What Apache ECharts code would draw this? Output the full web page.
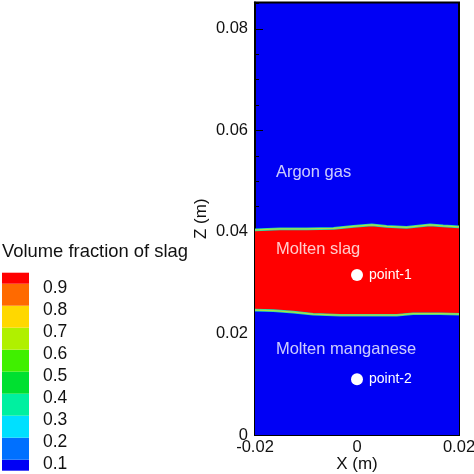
<!DOCTYPE html>
<html>
<head>
<meta charset="utf-8">
<style>
html, body { margin: 0; padding: 0; background: #fff; }
#chart { width: 474px; height: 474px; }
</style>
<script src="https://cdn.jsdelivr.net/npm/echarts@6/dist/echarts.min.js"></script>
</head>
<body>
<div id="chart"></div>
<script>
// Slag / gas interface, [x, z] in metres
var upperX = [-0.02, -0.0151, -0.0099, -0.0046, -0.0007, 0.0029, 0.0058, 0.0097, 0.0143, 0.0169, 0.02];
var upperZ = [0.0404, 0.0406, 0.0406, 0.0407, 0.0411, 0.0414, 0.0411, 0.0409, 0.0414, 0.0412, 0.0410];

// Manganese / slag interface
var lowerX = [-0.02, -0.0164, -0.0125, -0.0086, -0.0033, 0.0032, 0.0078, 0.0110, 0.0163, 0.02];
var lowerZ = [0.0246, 0.0245, 0.0242, 0.0238, 0.0236, 0.0236, 0.0236, 0.0239, 0.0239, 0.0238];

// Labels and monitoring points
var zoneNames = ['Argon gas', 'Molten slag', 'Molten manganese'];
var zoneX = [-0.0159, -0.0159, -0.0159];
var zoneZ = [0.0518, 0.0365, 0.0168];
var pointNames = ['point-1', 'point-2'];
var pointX = [0, 0];
var pointZ = [0.0315, 0.011];

// Contour legend, bottom to top
var levelTicks = [0.1, 0.2, 0.3, 0.4, 0.5, 0.6, 0.7, 0.8, 0.9];
var levelColors = ['#0000f5', '#0070ff', '#00e0ff', '#00f0a0', '#00e030', '#40f000', '#b0f000', '#ffd800', '#ff6a00', '#ff0000'];
var levelSteps = [0.1, 0.1, 0.1, 0.1, 0.1, 0.1, 0.1, 0.1, 0.1, 0.1];

var FONT = '"Liberation Sans", Arial, sans-serif';
var BLUE = levelColors[0];
var RED = levelColors[9];

function pairs(xs, zs) {
    return xs.map(function (x, i) {
        return [x, zs[i]];
    });
}

function fillSeries(xs, zs, color) {
    return {
        type: 'line',
        data: pairs(xs, zs),
        symbol: 'none',
        silent: true,
        lineStyle: { width: 0 },
        areaStyle: { color: color, opacity: 1, origin: 'start' }
    };
}

function edgeSeries(xs, zs, color, width) {
    return {
        type: 'line',
        data: pairs(xs, zs),
        symbol: 'none',
        silent: true,
        z: 3,
        lineStyle: { color: color, width: width }
    };
}

var series = [
    fillSeries(upperX, upperZ, RED),
    fillSeries(lowerX, lowerZ, BLUE),
    edgeSeries(upperX, upperZ, '#20d8b0', 2.6),
    edgeSeries(lowerX, lowerZ, '#20d8b0', 2.6),
    edgeSeries(upperX, upperZ, '#b0e040', 1.2),
    edgeSeries(lowerX, lowerZ, '#b0e040', 1.2),
    {
        type: 'scatter',
        symbolSize: 0,
        silent: true,
        z: 5,
        data: zoneNames.map(function (name, i) {
            return { name: name, value: [zoneX[i], zoneZ[i]] };
        }),
        label: {
            show: true,
            position: 'right',
            distance: 0,
            formatter: '{b}',
            color: '#fff',
            fontFamily: FONT,
            fontSize: 16.5
        }
    },
    {
        type: 'scatter',
        symbolSize: 12,
        silent: true,
        z: 5,
        itemStyle: { color: '#fff', opacity: 1 },
        data: pointNames.map(function (name, i) {
            return { name: name, value: [pointX[i], pointZ[i]] };
        }),
        label: {
            show: true,
            position: 'right',
            distance: 6,
            formatter: '{b}',
            color: '#fff',
            fontFamily: FONT,
            fontSize: 14
        }
    }
];

// Legend swatches are a stacked bar on their own grid
levelColors.forEach(function (color, i) {
    series.push({
        type: 'bar',
        xAxisIndex: 1,
        yAxisIndex: 1,
        stack: 'levels',
        barWidth: '100%',
        silent: true,
        itemStyle: { color: color },
        data: [levelSteps[i]]
    });
});

var chart = echarts.init(document.getElementById('chart'), null, { renderer: 'canvas' });

chart.setOption({
    animation: false,
    backgroundColor: '#fff',
    title: {
        text: 'Volume fraction of slag',
        left: 2,
        top: 243,
        padding: 0,
        textStyle: { fontFamily: FONT, fontSize: 18.4, fontWeight: 'normal', color: '#111' }
    },
    grid: [
        { left: 255, top: 2.5, width: 204, height: 432.5, outerBoundsMode: 'none', show: true, backgroundColor: BLUE, borderColor: '#000', borderWidth: 2, z: 0 },
        { left: 2, top: 272.7, width: 27, height: 198, outerBoundsMode: 'none' }
    ],
    xAxis: [
        {
            type: 'value',
            min: -0.02,
            max: 0.02,
            interval: 0.02,
            name: 'X (m)',
            nameLocation: 'middle',
            nameGap: 21,
            nameMoveOverlap: false,
            nameTextStyle: { fontFamily: FONT, fontSize: 17, color: '#111' },
            splitLine: { show: false },
            axisLine: { onZero: false, lineStyle: { color: '#000', width: 2 } },
            axisTick: { inside: true, length: 8, lineStyle: { color: '#000' } },
            minorTick: { show: true, splitNumber: 4, length: 4, lineStyle: { color: '#000' } },
            axisLabel: { margin: 4, fontFamily: FONT, fontSize: 16.5, color: '#111' }
        },
        { type: 'category', gridIndex: 1, data: ['levels'], show: false }
    ],
    yAxis: [
        {
            type: 'value',
            min: 0,
            max: 0.0852,
            interval: 0.02,
            name: 'Z (m)',
            nameLocation: 'middle',
            nameGap: 45,
            nameRotate: 90,
            nameMoveOverlap: false,
            nameTextStyle: { fontFamily: FONT, fontSize: 17, color: '#111' },
            splitLine: { show: false },
            axisLine: { onZero: false, lineStyle: { color: '#000', width: 2 } },
            axisTick: { inside: true, length: 8, lineStyle: { color: '#000' } },
            minorTick: { show: true, splitNumber: 4, length: 4, lineStyle: { color: '#000' } },
            axisLabel: { margin: 7, showMaxLabel: false, fontFamily: FONT, fontSize: 16.5, color: '#111' }
        },
        {
            type: 'value',
            gridIndex: 1,
            position: 'right',
            min: 0.05,
            max: 0.95,
            splitLine: { show: false },
            axisLine: { show: false },
            axisTick: { show: false },
            axisLabel: {
                customValues: levelTicks,
                margin: 14,
                formatter: '{level|{value}}',
                rich: {
                    level: { padding: [9, 0, 0, 0], fontFamily: FONT, fontSize: 17.5, color: '#111' }
                }
            }
        }
    ],
    series: series
});

window.addEventListener('resize', function () {
    chart.resize();
});
</script>
</body>
</html>
